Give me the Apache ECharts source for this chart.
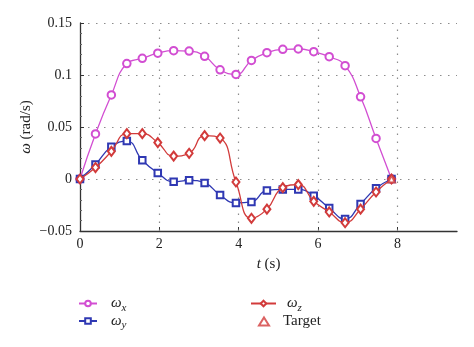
<!DOCTYPE html>
<html><head><meta charset="utf-8">
<script src="https://cdn.jsdelivr.net/npm/echarts@6/dist/echarts.min.js"></script>
<style>html,body{margin:0;padding:0;background:#fff}#c{width:474px;height:347px}</style>
</head><body><div id="c"></div>
<script>
var times = [0, 0.39, 0.79, 1.18, 1.57, 1.96, 2.36, 2.75, 3.14, 3.53, 3.93, 4.32, 4.71, 5.11, 5.50, 5.89, 6.28, 6.68, 7.07, 7.46, 7.85];
var wx = [0, 0.0433, 0.0808, 0.111, 0.116, 0.121, 0.1234, 0.123, 0.118, 0.105, 0.1006, 0.114, 0.1215, 0.1247, 0.125, 0.1224, 0.1176, 0.109, 0.079, 0.039, 0];
var wy = [0, 0.014, 0.031, 0.0365, 0.018, 0.0058, -0.0026, -0.0013, -0.0038, -0.0154, -0.023, -0.022, -0.011, -0.010, -0.010, -0.016, -0.028, -0.0385, -0.024, -0.009, 0];
var wz = [0, 0.011, 0.0266, 0.0436, 0.0436, 0.035, 0.022, 0.0247, 0.0417, 0.0394, -0.0029, -0.0378, -0.029, -0.0083, -0.0054, -0.0215, -0.0317, -0.042, -0.029, -0.0125, 0];
var targetT = [7.85];
var targetW = [0];
var xTicks = [0, 2, 4, 6, 8];
var yTickLabels = {'0.15':'0.15','0.1':'0.1','0.05':'0.05','0':'0','-0.05':'\u22120.05'};

function pairs(xs, ys){ return xs.map(function(x,i){return [x, ys[i]];}); }
var serif = '"Liberation Serif","DejaVu Serif",serif';
var cX = '#d24ed2', cY = '#2f38b3', cZ = '#d23b3b', cT = '#d23b3b';
var gridDot = {color:'#8c8c8c',type:[1.5,6.5],width:1.2};
function mkRich(pad){
  return {
    w:{fontFamily:serif,fontSize:15,fontStyle:'italic',color:'#222',padding:[0,0,0,pad]},
    s:{fontFamily:serif,fontSize:11,fontStyle:'italic',color:'#222',padding:[9,0,0,0]},
    n:{fontFamily:serif,fontSize:15,color:'#222',padding:[0,0,0,pad]}
  };
}
function legFmt(name){
  if(name==='wx') return '{w|\u03c9}{s|x}';
  if(name==='wy') return '{w|\u03c9}{s|y}';
  if(name==='wz') return '{w|\u03c9}{s|z}';
  return '{n|Target}';
}
var chart = echarts.init(document.getElementById('c'), null, {renderer:'canvas'});
chart.setOption({
  animation:false,
  backgroundColor:'#fff',
  grid:{left:80,right:17,top:23,bottom:116,containLabel:false},
  legend:[
    {orient:'vertical',left:73,top:291,itemWidth:18,itemHeight:7,itemGap:0,data:['wx','wy'],formatter:legFmt,textStyle:{rich:mkRich(9)}},
    {orient:'vertical',left:245,top:291,itemWidth:25,itemHeight:7,itemGap:0,data:['wz'],formatter:legFmt,textStyle:{rich:mkRich(6)}},
    {orient:'vertical',left:253,top:309,itemWidth:10,itemHeight:8,itemGap:0,data:['Target'],formatter:legFmt,textStyle:{rich:mkRich(9)},itemStyle:{borderWidth:1.3}}
  ],
  xAxis:{
    type:'value',min:0,max:9.5,interval:2,
    name:'{i|t} (s)',nameLocation:'middle',nameGap:26,
    nameTextStyle:{fontFamily:serif,fontSize:15,color:'#222',rich:{i:{fontFamily:serif,fontSize:15,fontStyle:'italic',color:'#222'}}},
    axisLine:{onZero:false,lineStyle:{color:'#333',width:1.3}},
    axisTick:{inside:true,length:4,lineStyle:{color:'#333'},customValues:xTicks},
    axisLabel:{fontFamily:serif,fontSize:14,color:'#222',margin:6,customValues:xTicks,
      formatter:function(v){return String(v);}},
    splitLine:{show:false}
  },
  yAxis:{
    type:'value',min:-0.05,max:0.15,interval:0.05,
    name:'{i|\u03c9} (rad/s)',nameLocation:'middle',nameGap:46,nameRotate:90,nameMoveOverlap:false,
    nameTextStyle:{fontFamily:serif,fontSize:15,color:'#222',rich:{i:{fontFamily:serif,fontSize:15,fontStyle:'italic',color:'#222'}}},
    axisLine:{show:true,lineStyle:{color:'#333',width:1.3}},
    axisTick:{show:true,inside:true,length:4,lineStyle:{color:'#333'}},
    minorTick:{show:true,splitNumber:5,length:2,lineStyle:{color:'#666'}},
    axisLabel:{fontFamily:serif,fontSize:14,color:'#222',margin:8,
      formatter:function(v){var k=String(Math.round(v*100)/100);return yTickLabels[k]!==undefined?yTickLabels[k]:k;}},
    splitLine:{show:true,lineStyle:gridDot}
  },
  series:[
    {name:'wx',type:'line',data:pairs(times,wx),smooth:0.5,symbol:'emptyCircle',symbolSize:7.5,
      lineStyle:{color:cX,width:1.3},itemStyle:{color:cX,borderColor:cX,borderWidth:1.2},z:3,
      markLine:{silent:true,symbol:['none','none'],label:{show:false},lineStyle:gridDot,z:1,
        data:xTicks.slice(1).map(function(v){return {xAxis:v};})}},
    {name:'wy',type:'line',data:pairs(times,wy),smooth:0.5,symbol:'emptyRect',symbolSize:6.5,
      lineStyle:{color:cY,width:1.3},itemStyle:{color:cY,borderColor:cY,borderWidth:1.2},z:4},
    {name:'wz',type:'line',data:pairs(times,wz),smooth:0.5,symbol:'emptyDiamond',symbolSize:[7,9],
      lineStyle:{color:cZ,width:1.3},itemStyle:{color:cZ,borderColor:cZ,borderWidth:1.2},z:5},
    {name:'Target',type:'scatter',data:pairs(targetT,targetW),symbol:'emptyTriangle',symbolSize:7,
      itemStyle:{color:cT,borderColor:cT,borderWidth:1.2},z:6}
  ]
});
</script>
</body></html>
